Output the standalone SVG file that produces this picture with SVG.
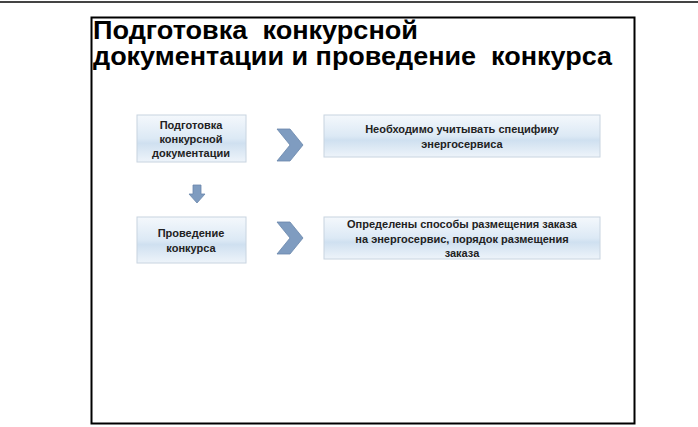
<svg xmlns="http://www.w3.org/2000/svg" width="698" height="427" viewBox="0 0 698 427">
<defs>
<style>
.box{stroke:#c8d4e0;stroke-width:1}
.t{font-family:"Liberation Sans",Arial,sans-serif;font-weight:bold;font-size:11px;fill:#222;text-anchor:middle}
.ti{font-family:"Liberation Sans",Arial,sans-serif;font-weight:bold;font-size:25px;fill:#000}
.arr{fill:#7f9cc0;stroke:#6a87ab;stroke-width:0.8}
</style>
<linearGradient id="g" x1="0" y1="0" x2="0" y2="1">
<stop offset="0" stop-color="#f4f8fc"/><stop offset="0.5" stop-color="#dce9f5"/><stop offset="0.6" stop-color="#cfe0f0"/><stop offset="1" stop-color="#eef4fa"/>
</linearGradient>
</defs>
<rect width="698" height="427" fill="#fff"/>
<line x1="0" y1="2" x2="698" y2="2" stroke="#444" stroke-width="2"/>
<rect x="91.5" y="17.5" width="543" height="406" fill="#fff" stroke="#000" stroke-width="2"/>
<text class="ti" x="93" y="39" textLength="325" lengthAdjust="spacingAndGlyphs" xml:space="preserve">Подготовка  конкурсной</text>
<text class="ti" x="93" y="65" textLength="519" lengthAdjust="spacingAndGlyphs" xml:space="preserve">документации и проведение  конкурса</text>
<g id="n1"><rect class="box" x="137" y="115" width="109" height="47" fill="url(#g)"/>
<text class="t" x="191" y="129">Подготовка</text><text class="t" x="191" y="143">конкурсной</text><text class="t" x="191" y="157">документации</text></g>
<g id="n2"><rect class="box" x="137" y="217" width="109" height="46" fill="url(#g)"/>
<text class="t" x="191" y="237">Проведение</text><text class="t" x="191" y="252">конкурса</text></g>
<g id="n3"><rect class="box" x="324" y="115" width="276" height="42" fill="url(#g)"/>
<text class="t" x="462" y="133">Необходимо учитывать специфику</text><text class="t" x="462" y="148">энергосервиса</text></g>
<g id="n4"><rect class="box" x="324" y="217" width="276" height="42" fill="url(#g)"/>
<text class="t" x="462" y="228">Определены способы размещения заказа</text><text class="t" x="462" y="243">на энергосервис, порядок размещения</text><text class="t" x="462" y="257">заказа</text></g>
<g id="connectors">
<polygon class="arr" points="277,129 290,129 303,145 290,161 277,161 290,145"/>
<polygon class="arr" points="277,222 290,222 303,238 290,254 277,254 290,238"/>
<polygon class="arr" points="193,185 201,185 201,194 205,194 197,203 189,194 193,194"/>
</g>
</svg>
